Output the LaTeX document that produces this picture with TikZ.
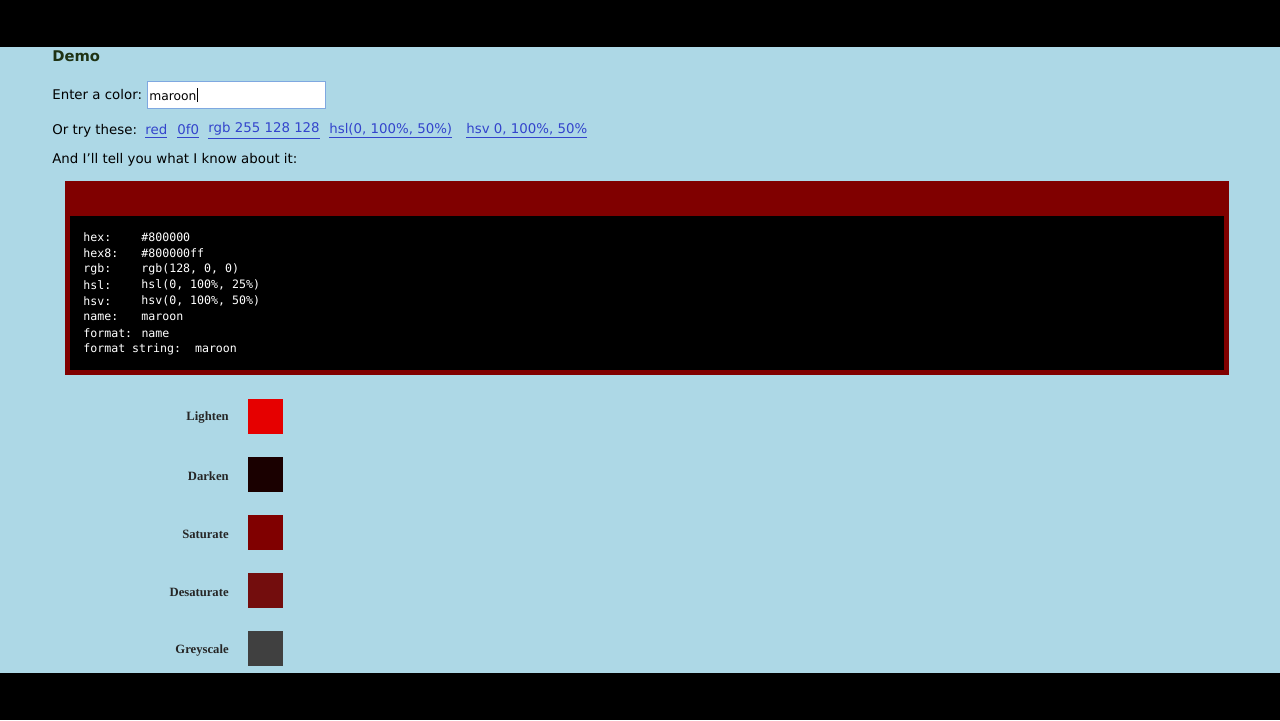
\documentclass[tikz,border=0pt]{standalone}
\usepackage{fontspec}
\setmainfont{DejaVu Sans}
\newfontfamily\monof{DejaVu Sans Mono}
\newfontfamily\serifb{Liberation Serif}
\definecolor{bgblue}{RGB}{173,216,230}
\definecolor{maroonc}{RGB}{128,0,0}
\definecolor{linkc}{RGB}{51,68,204}
\definecolor{inbord}{RGB}{127,168,224}
\definecolor{headc}{RGB}{30,50,20}
\begin{document}
\begin{tikzpicture}[x=0.02cm,y=-0.02cm,
  txt/.style={anchor=west,inner sep=0pt,font=\fontsize{7.6}{9}\selectfont},
  lnk/.style={txt,text=linkc},
  mono/.style={anchor=west,inner sep=0pt,text=white,font=\monof\fontsize{6.6}{9}\selectfont},
  lbl/.style={anchor=east,inner sep=0pt,font=\serifb\bfseries\fontsize{7.2}{9}\selectfont,text=black!85},
  sw/.style={minimum size=0.7cm,inner sep=0pt,anchor=north west}]
\fill[bgblue] (0,0) rectangle (1280,720);
\fill[black] (0,0) rectangle (1280,47);
\fill[black] (0,673) rectangle (1280,720);
\useasboundingbox (0,0) rectangle (1280,720);
\node[txt,font=\bfseries\fontsize{8.4}{10}\selectfont,text=headc] (demo) at (52,56) {Demo};
\node[txt] (enter) at (52,95) {Enter a color:};
\node[draw=inbord,fill=white,minimum width=3.56cm,minimum height=0.54cm,anchor=north west,inner sep=0pt] (inp) at (147,81) {};
\node[txt,font=\fontsize{7}{9}\selectfont] (inptxt) at (149,95) {maroon\rule[-0.3ex]{0.4pt}{2.1ex}};
\node[txt] (try) at (52,131) {Or try these:};
\node[lnk] (l1) at (145,131) {\underline{red}};
\node[lnk] (l2) at (177,131) {\underline{0f0}};
\node[lnk] (l3) at (208,131) {\underline{rgb 255 128 128}};
\node[lnk] (l4) at (329,131) {\underline{hsl(0, 100\%, 50\%)}};
\node[lnk] (l5) at (466,131) {\underline{hsv 0, 100\%, 50\%}};
\node[txt] (tell) at (52,160) {And I'll tell you what I know about it:};
\fill[maroonc] (65,181) rectangle (1229,375);
\fill[black] (70,216) rectangle (1224,370);
\foreach \i/\a/\b in {0/hex:/\#800000,1/hex8:/\#800000ff,2/rgb:/{rgb(128, 0, 0)},3/hsl:/{hsl(0, 100\%, 25\%)},4/hsv:/{hsv(0, 100\%, 50\%)},5/name:/maroon}{
  \node[mono] (k\i) at (83,237+16*\i) {\a};
  \node[mono] (v\i) at (141,237+16*\i) {\b};
}
\node[mono] (k6) at (83,333) {format: name};
\node[mono] (k7) at (83,349) {format string:\ \ maroon};
\foreach \i/\n/\c in {0/Lighten/{230,0,0},1/Darken/{26,0,0},2/Saturate/{128,0,0},3/Desaturate/{115,13,13},4/Greyscale/{64,64,64}}{
  \definecolor{swc}{RGB}{\c}
  \node[sw,fill=swc] (s\i) at (248,399+58*\i) {};
  \node[lbl] (n\i) at (229,418+58*\i) {\n};
}
\end{tikzpicture}
\end{document}
